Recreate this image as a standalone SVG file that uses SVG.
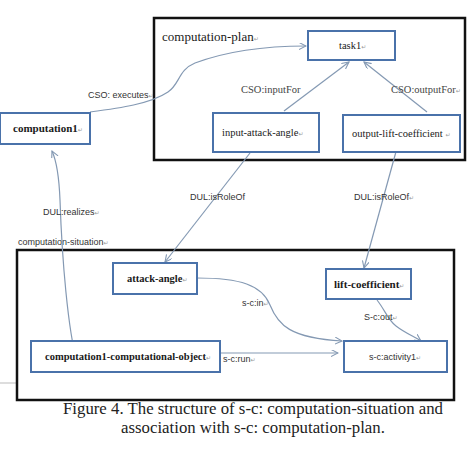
<svg xmlns="http://www.w3.org/2000/svg" width="474" height="454" viewBox="0 0 474 454">
<defs>
<style>
.cont{fill:none;stroke:#111;stroke-width:2.5}
.node{fill:#fff;stroke:#4a72aa;stroke-width:2}
.nt{font-family:"Liberation Serif","Times New Roman",serif;font-size:10.5px;fill:#1a1a1a}
.b{font-weight:bold}
.lbl{font-family:"Liberation Sans",Arial,sans-serif;font-size:9px;fill:#333}
.slbl{font-family:"Liberation Serif","Times New Roman",serif;font-size:10.5px;fill:#444}
.pm{font-family:"DejaVu Sans",sans-serif;font-size:6px;fill:#999;font-weight:normal}
.edge{fill:none;stroke:#8499b3;stroke-width:1.2}
.cap{font-family:"Liberation Serif","Times New Roman",serif;font-size:16.8px;fill:#222}
</style>
<marker id="arr" markerWidth="8" markerHeight="8" refX="7" refY="3.5" orient="auto" markerUnits="userSpaceOnUse">
<path d="M0,0 L7,3.5 L0,7" fill="none" stroke="#8499b3" stroke-width="1.1"/>
</marker>
</defs>
<rect width="474" height="454" fill="#fff"/>
<line x1="0" y1="383" x2="17" y2="383" stroke="#bbb" stroke-width="1"/>

<g id="computation-plan">
<rect class="cont" x="154" y="18" width="311" height="142"/>
<text class="nt" x="162" y="41" style="font-size:13px">computation-plan<tspan class="pm">↵</tspan></text>
</g>
<g id="computation-situation">
<rect class="cont" x="17" y="250" width="437" height="150"/>
<text class="lbl" x="18" y="245">computation-situation<tspan class="pm">↵</tspan></text>
</g>

<g id="connectors">
<path class="edge" d="M90,112 C120,108 150,104 168,92 C180,84 178,70 195,63 C230,50 270,46 306,46" marker-end="url(#arr)"/>
<path class="edge" d="M284,111 L349,62" marker-end="url(#arr)"/>
<path class="edge" d="M427,112 L364,62" marker-end="url(#arr)"/>
<path class="edge" d="M250,153 L165,262" marker-end="url(#arr)"/>
<path class="edge" d="M397,148 L364,268" marker-end="url(#arr)"/>
<path class="edge" d="M77,362 C68,330 62,260 60,200 C59,175 57,162 52,151" marker-end="url(#arr)"/>
<path class="edge" d="M197,278 C240,278 262,285 270,305 C278,325 290,338 342,341" marker-end="url(#arr)"/>
<path class="edge" d="M377,300 C385,310 388,320 396,326 C405,333 415,337 421,341" marker-end="url(#arr)"/>
<path class="edge" d="M220,353 L338,353" marker-end="url(#arr)"/>
<text class="lbl" x="88" y="98">CSO: executes<tspan class="pm">↵</tspan></text>
<text class="slbl" x="241" y="93">CSO:inputFor</text>
<text class="slbl" x="391" y="93">CSO:outputFor<tspan class="pm">↵</tspan></text>
<text class="lbl" x="190" y="200">DUL:isRoleOf</text>
<text class="lbl" x="354" y="200">DUL:isRoleOf<tspan class="pm">↵</tspan></text>
<text class="lbl" x="43" y="215">DUL:realizes<tspan class="pm">↵</tspan></text>
<text class="lbl" x="242" y="306">s-c:in<tspan class="pm">↵</tspan></text>
<text class="lbl" x="364" y="320">S-c:out<tspan class="pm">↵</tspan></text>
<text class="lbl" x="223" y="362">s-c:run<tspan class="pm">↵</tspan></text>
</g>

<g id="task1">
<rect class="node" x="308" y="31" width="87" height="29"/>
<text class="nt" x="339" y="49">task1<tspan class="pm">↵</tspan></text>
</g>
<g id="computation1">
<rect class="node" x="0" y="113" width="90" height="31"/>
<text class="nt b" x="13" y="132" style="font-size:11px">computation1<tspan class="pm">↵</tspan></text>
</g>
<g id="input-attack-angle">
<rect class="node" x="213" y="113" width="106" height="39"/>
<text class="nt" x="222" y="136">input-attack-angle<tspan class="pm">↵</tspan></text>
</g>
<g id="output-lift-coefficient">
<rect class="node" x="343" y="115" width="117" height="37"/>
<text class="nt" x="352" y="137">output-lift-coefficient <tspan class="pm">↵</tspan></text>
</g>
<g id="attack-angle">
<rect class="node" x="113" y="263" width="84" height="31"/>
<text class="nt b" x="127" y="282">attack-angle<tspan class="pm">↵</tspan></text>
</g>
<g id="lift-coefficient">
<rect class="node" x="326" y="269" width="85" height="30"/>
<text class="nt b" x="334" y="288" style="font-size:11px">lift-coefficient<tspan class="pm">↵</tspan></text>
</g>
<g id="computation1-computational-object">
<rect class="node" x="31" y="341" width="189" height="31"/>
<text class="nt b" x="45" y="360">computation1-computational-object<tspan class="pm">↵</tspan></text>
</g>
<g id="s-c-activity1">
<rect class="node" x="344" y="341" width="103" height="31"/>
<text class="lbl" x="369" y="360">s-c:activity1<tspan class="pm">↵</tspan></text>
</g>

<g id="caption">
<text class="cap" x="253" y="414" text-anchor="middle">Figure 4. The structure of s-c: computation-situation and</text>
<text class="cap" x="253" y="433" text-anchor="middle">association with s-c: computation-plan.</text>
</g>
</svg>
